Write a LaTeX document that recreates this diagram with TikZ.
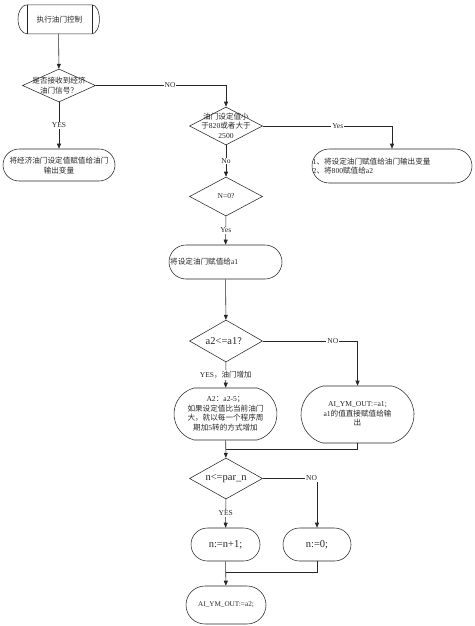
\documentclass[tikz,border=0pt]{standalone}
\usepackage{fontspec}
\setmainfont{Liberation Serif}
\newfontfamily\cjk{Noto Sans CJK SC}
\usetikzlibrary{shapes.geometric,shapes.misc,arrows.meta}
\tikzset{
  ln/.style={draw=black!85, line width=0.55pt},
  arr/.style={ln, -{Triangle[length=5pt,width=4pt]}},
  term/.style={ln, rounded rectangle, inner sep=0pt, minimum width=#1},
  dia/.style={ln, diamond, inner sep=0pt, minimum width=73pt, minimum height=#1},
  txt/.style={font=\cjk\fontsize{7.6}{9.5}\selectfont, text=black!85, inner sep=0pt, align=center},
  big/.style={font=\rmfamily\fontsize{10.5}{12}\selectfont, text=black!85, inner sep=0pt},
  lab/.style={font=\rmfamily\fontsize{7.5}{9}\selectfont, text=black!85, fill=white, inner sep=1pt},
}
\begin{document}
\begin{tikzpicture}[x=1pt,y=-1pt]
\useasboundingbox (0,0) rectangle (474,626);
% start
\node[draw=none, minimum width=81pt, minimum height=29pt, inner sep=0pt] (start) at (58.5,19.3) {};
\draw[ln] (27,4.8) -- (92,4.8) arc[start angle=90,end angle=-90,x radius=7.4pt,y radius=14.5pt] -- (27,33.8) arc[start angle=270,end angle=90,x radius=9pt,y radius=14.5pt] -- cycle;
\draw[ln] (27,4.8) -- (27,33.8) (92,4.8) -- (92,33.8);
\node[txt] (startt) at (59.5,19.3) {执行油门控制};
% decision 1
\node[dia=33pt] (d1) at (59,85.5) {};
\node[txt] (d1t) at (59,85.5) {是否接收到经济\\油门信号？};
\node[term=112pt, minimum height=32pt] (b1) at (59,165) {};
\node[txt] (b1t) at (59,165.5) {将经济油门设定值赋值给油门\\输出变量};
% decision 2
\node[dia=38pt] (d2) at (226,126) {};
\node[txt] (d2t) at (226,125.5) {油门设定值小\\于{\rmfamily 820}或者大于\\{\rmfamily 2500}};
\node[term=160pt, minimum height=34pt] (b2) at (392,166) {};
\node[txt, align=left, anchor=west] (b2t) at (312.5,166) {{\rmfamily 1}、将设定油门赋值给油门输出变量\\{\rmfamily 2}、将{\rmfamily 800}赋值给{\rmfamily a2}};
% decision 3
\node[dia=39pt] (d3) at (226,196.5) {};
\node[txt, font=\rmfamily\fontsize{7.5}{9}\selectfont] (d3t) at (226,196) {N=0?};
\node[term=113pt, minimum height=34pt] (b3) at (225.5,262) {};
\node[txt, anchor=west] (b3t) at (170,262) {将设定油门赋值给{\rmfamily a1}};
% decision 4
\node[dia=42pt] (d4) at (226,341) {};
\node[big] (d4t) at (226,341) {a2{<}=a1{\cjk\fontsize{9}{12}\selectfont ？}};
\node[term=103pt, minimum height=52pt, rounded rectangle arc length=150] (b4) at (225.5,414) {};
\node[txt] (b4t) at (225.5,414) {{\rmfamily A2}：{\rmfamily a2-5}；\\如果设定值比当前油门\\大，就以每一个程序周\\期加{\rmfamily 5}转的方式增加};
\node[term=113pt, minimum height=57pt, rounded rectangle arc length=150] (b5) at (357.5,414.5) {};
\node[txt] (b5t) at (357.5,414) {{\rmfamily AI\_YM\_OUT:=a1;}\\{\rmfamily a1}的值直接赋值给输\\出};
\coordinate (m1) at (226,449);
% decision 5
\node[dia=41pt] (d5) at (226,478.5) {};
\node[big] (d5t) at (226,478.5) {n{<}=par\_n};
\node[term=69pt, minimum height=33pt] (b6) at (225.5,544.5) {};
\node[big] (b6t) at (225.5,544.5) {n:=n+1;};
\node[term=68pt, minimum height=33pt] (b7) at (317,544.5) {};
\node[big] (b7t) at (317,544.5) {n:=0;};
\coordinate (m2) at (226,572);
\node[term=80pt, minimum height=38pt] (b8) at (226,605) {};
\node[txt, font=\rmfamily\fontsize{7.2}{9}\selectfont] (b8t) at (226,605) {AI\_YM\_OUT:=a2;};
% connectors
\draw[arr] (start) -- (d1);
\draw[arr] (d1) -- node[lab]{YES} (b1);
\draw[arr] (d1.east) -- node[lab,pos=0.57]{NO} (d1.east -| d2.north) -- (d2.north);
\draw[arr] (d2.east) -- node[lab,pos=0.58]{Yes} (d2.east -| b2.north) -- (b2.north);
\draw[arr] (d2) -- node[lab]{No} (d3);
\draw[arr] (d3) -- node[lab]{Yes} (b3);
\draw[arr] (b3) -- (d4);
\draw[arr] (d4.east) -- node[lab,pos=0.74]{NO} (d4.east -| b5.north) -- (b5.north);
\draw[arr] (d4) -- node[lab,font=\cjk\fontsize{7.5}{9}\selectfont]{{\rmfamily YES}，油门增加} (b4);
\draw[arr] (b4) -- (d5);
\draw[ln] (b5.south) |- (m1);
\draw[arr] (d5.east) -- node[lab,pos=0.9]{NO} (d5.east -| b7.north) -- (b7.north);
\draw[arr] (d5) -- node[lab]{YES} (b6);
\draw[arr] (b6) -- (b8);
\draw[ln] (b7.south) |- (m2);
\end{tikzpicture}
\end{document}
